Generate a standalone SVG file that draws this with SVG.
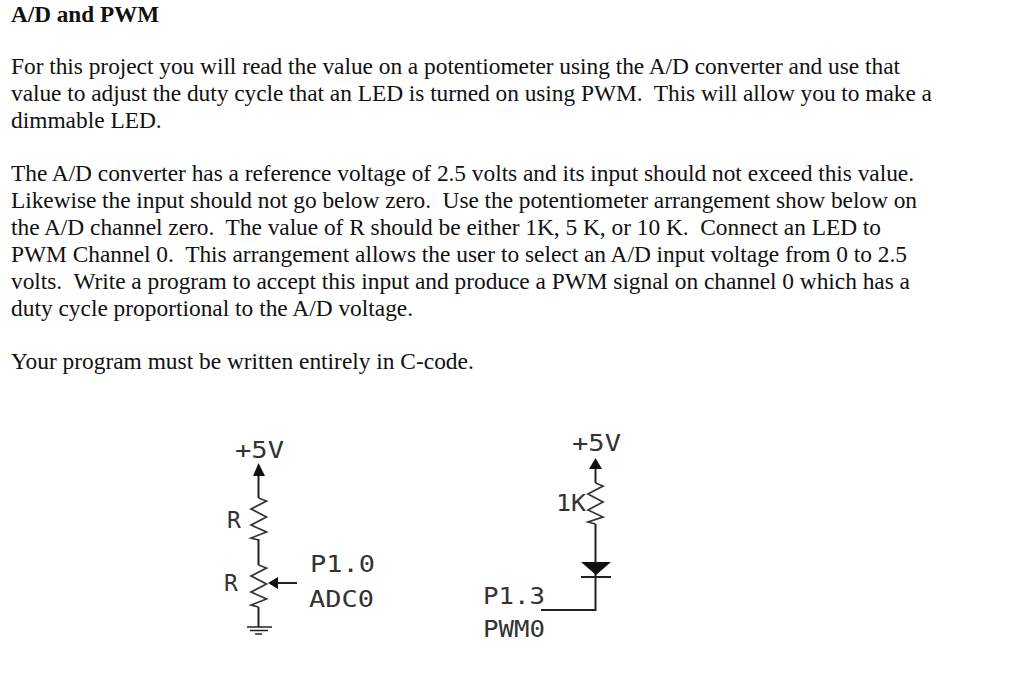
<svg xmlns="http://www.w3.org/2000/svg" width="1024" height="673" viewBox="0 0 1024 673">
<style>
.t{font-family:"Liberation Serif","Times New Roman",serif;font-size:23.4px;fill:#111;white-space:pre}
.b{font-weight:bold;font-size:23.2px}
.m{font-family:"DejaVu Sans Mono",monospace;font-size:23px;fill:#333}
.w{fill:none;stroke:#222;stroke-width:2}
.r{fill:none;stroke:#333;stroke-width:1.7}
.f{fill:#111}
</style>
<rect width="1024" height="673" fill="#fff"/>
<g id="text">
<text class="t b" x="11" y="22">A/D and PWM</text>
<text class="t" x="11" y="74" textLength="889">For this project you will read the value on a potentiometer using the A/D converter and use that</text>
<text class="t" x="11" y="101" textLength="921">value to adjust the duty cycle that an LED is turned on using PWM.  This will allow you to make a</text>
<text class="t" x="11" y="128">dimmable LED.</text>
<text class="t" x="11" y="181" textLength="903">The A/D converter has a reference voltage of 2.5 volts and its input should not exceed this value.</text>
<text class="t" x="11" y="208" textLength="906">Likewise the input should not go below zero.  Use the potentiometer arrangement show below on</text>
<text class="t" x="11" y="235" textLength="870">the A/D channel zero.  The value of R should be either 1K, 5 K, or 10 K.  Connect an LED to</text>
<text class="t" x="11" y="262" textLength="896">PWM Channel 0.  This arrangement allows the user to select an A/D input voltage from 0 to 2.5</text>
<text class="t" x="11" y="289" textLength="899">volts.  Write a program to accept this input and produce a PWM signal on channel 0 which has a</text>
<text class="t" x="11" y="316">duty cycle proportional to the A/D voltage.</text>
<text class="t" x="11" y="369">Your program must be written entirely in C-code.</text>
</g>
<g id="connectors">
<path class="w" d="M258.500 474V498M258.500 539V565M258.500 607V627"/>
<path class="w" d="M297 583H276"/>
<path class="w" d="M595.500 467V483M595.500 524V610H541"/>
<path class="w" d="M581 577H611" stroke-width="3"/>
<path class="w" style="stroke-width:1.500" d="M247 627H272M250 630.500H268M255 634H262"/>
</g>
<g id="r1"><path class="r" d="M258.500 498L266.500 501L251 509L266.500 517L251 525L266.500 532L251 538L258.500 540"/></g>
<g id="r2"><path class="r" d="M258.500 565L266.500 568L251 576L266.500 584L251 592L266.500 599L251 605L258.500 607"/></g>
<g id="r3"><path class="r" d="M595.500 483L603 486L588 494L603 502L588 510L603 517L588 522L595.500 524"/></g>
<g id="arrows">
<path class="f" d="M258.500 463L265 476H253Z"/>
<path class="f" d="M268 583L278 577V589Z"/>
<path class="f" d="M595.500 458L602 469H589Z"/>
<path class="f" d="M581 562H611L596 575Z"/>
</g>
<g id="labels">
<text class="m" x="235" y="458" textLength="49" lengthAdjust="spacingAndGlyphs">+5V</text>
<text class="m" x="572" y="451" textLength="49" lengthAdjust="spacingAndGlyphs">+5V</text>
<text class="m" x="227" y="528">R</text>
<text class="m" x="224" y="591">R</text>
<text class="m" x="310" y="572" textLength="65" lengthAdjust="spacingAndGlyphs">P1.0</text>
<text class="m" x="309" y="607" textLength="65" lengthAdjust="spacingAndGlyphs">ADC0</text>
<text class="m" x="556" y="511" textLength="30" lengthAdjust="spacingAndGlyphs">1K</text>
<text class="m" x="483" y="604" textLength="62" lengthAdjust="spacingAndGlyphs">P1.3</text>
<text class="m" x="483" y="637" textLength="62" lengthAdjust="spacingAndGlyphs">PWM0</text>
</g>
</svg>
